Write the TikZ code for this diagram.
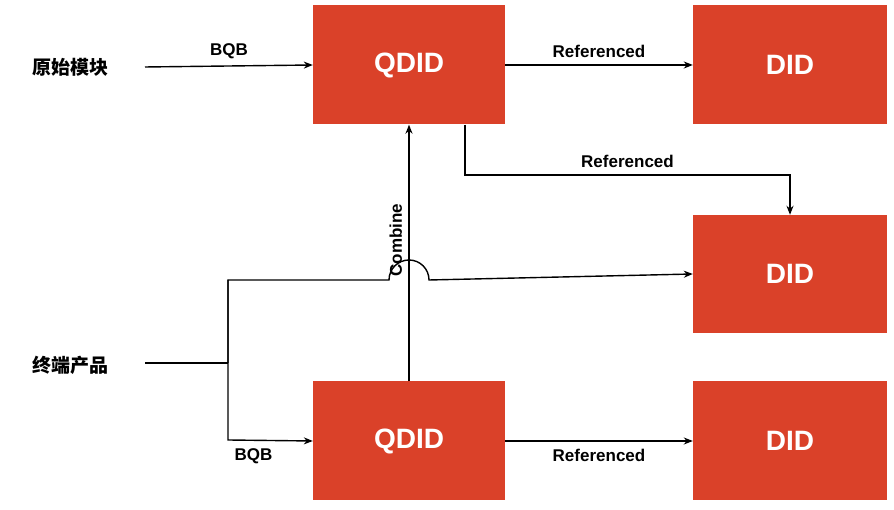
\documentclass[tikz,border=0pt]{standalone}
\usepackage{fontspec}
\setmainfont{Liberation Sans}
\newfontfamily\cjk{Noto Sans CJK SC}
\usetikzlibrary{arrows.meta}
\definecolor{boxred}{HTML}{DA4129}
\begin{document}
\begin{tikzpicture}[x=1pt,y=1pt,
  box/.style={fill=boxred,minimum width=192pt,minimum height=119pt,text=white,font=\bfseries\fontsize{28}{30}\selectfont,inner sep=0},
  conn/.style={line width=1.4pt,-{Stealth[length=9pt,width=7pt]}},
  plain/.style={line width=1.4pt},
  lbl/.style={font=\bfseries\fontsize{17}{19}\selectfont},
  cn/.style={font=\cjk\bfseries\fontsize{19}{21}\selectfont}]
\useasboundingbox (0,0) rectangle (894,510);
\node[box] (q1) at (409,445) {QDID};
\node[box,minimum width=194pt] (d1) at (790,445) {DID};
\node[box,minimum width=194pt,minimum height=118pt] (d2) at (790,236) {DID};
\node[box] (q2) at (409,69) {QDID};
\node[box,minimum width=194pt] (d3) at (790,69) {DID};
\node[cn] (src) at (70,443) {原始模块};
\node[cn] (end) at (70,145) {终端产品};
\coordinate (s1) at (145,443);
\coordinate (s2) at (145,147);
\coordinate (j) at (228,147);
\draw[conn] (s1) -- (q1.west) node[lbl,midway,above=3pt] {BQB};
\draw[conn] (q1.east) -- (d1.west) node[lbl,midway,above=3pt] {Referenced};
\draw[conn] ([xshift=56pt]q1.south) |- (790,335) node[lbl,pos=0.75,above=3pt] {Referenced} -- (d2.north);
\draw[plain] (s2) -- (j);
\draw[conn] (228,230) -- (228,70) -- (q2.west) node[lbl,pos=0.3,below=4pt] {BQB};
\draw[conn] (q2.north) -- (q1.south) node[lbl,pos=0.55,left=3pt,rotate=90,anchor=south] {Combine};
\draw[conn] (228,147) -- (228,230) -- (389,230) arc (180:0:20) -- (d2.west);
\draw[conn] (q2.east) -- (d3.west) node[lbl,midway,below=4pt] {Referenced};
\end{tikzpicture}
\end{document}
